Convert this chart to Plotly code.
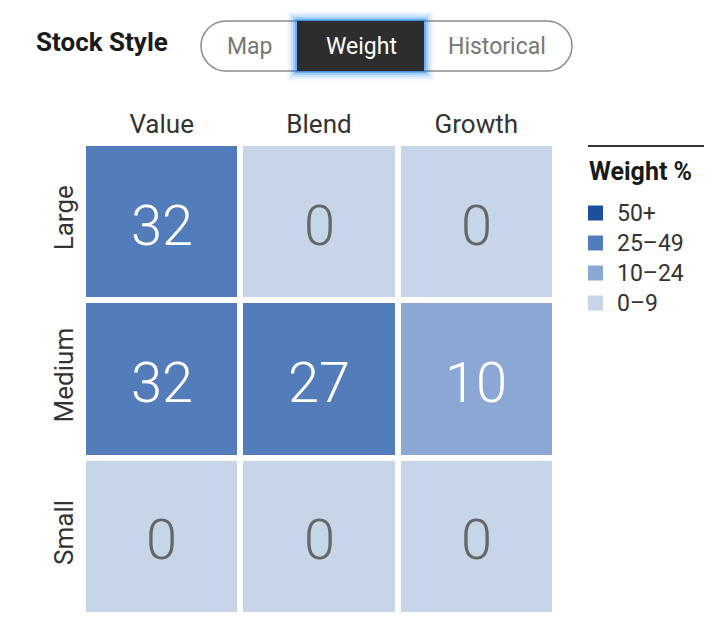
import plotly.graph_objects as go

# ---------------- data ----------------
styles = ["Value", "Blend", "Growth"]
sizes = ["Large", "Medium", "Small"]
weights = [
    [32, 0, 0],
    [32, 27, 10],
    [0, 0, 0],
]
legend_labels = ["50+", "25–49", "10–24", "0–9"]
legend_colors = ["#1d4f9f", "#537cbb", "#8ba7d3", "#c6d5e8"]
tabs = ["Map", "Weight", "Historical"]
selected_tab = "Weight"
title_text = "Stock Style"
legend_title = "Weight %"

# ---------------- layout constants ----------------
OFF = 8  # page body margin
W, H = 712, 628
PW = PH = 472
ML, MT = 83 - OFF, 143 - OFF
MR, MB = W - ML - PW, H - MT - PH
FONT = "Roboto, sans-serif"


def px(x):
    return (x - OFF - ML) / PW


def py(y):
    return (H - MB - (y - OFF)) / PH


c0, c1, c2, c3 = legend_colors[3], legend_colors[2], legend_colors[1], legend_colors[0]
colorscale = [
    [0.0, c0], [0.095, c0],
    [0.095, c1], [0.245, c1],
    [0.245, c2], [0.495, c2],
    [0.495, c3], [1.0, c3],
]

fig = go.Figure()
fig.add_trace(go.Heatmap(
    x=styles, y=sizes, z=weights,
    zmin=0, zmax=100, colorscale=colorscale, showscale=False,
    xgap=6, ygap=6, hoverinfo="skip",
))

shapes = []
annotations = []

# cell values
for i, s in enumerate(sizes):
    for j, st in enumerate(styles):
        v = weights[i][j]
        annotations.append(dict(
            x=st, y=s, xref="x", yref="y", text=str(v), showarrow=False,
            xanchor="center", yanchor="middle", yshift=-4,
            font=dict(family=FONT, size=56, weight=300,
                      color="#ffffff" if v >= 10 else "#666666"),
        ))

# title
annotations.append(dict(
    x=px(34), y=py(42), xref="paper", yref="paper", xanchor="left", yanchor="middle",
    text="<b>" + title_text + "</b>", showarrow=False,
    font=dict(family=FONT, size=26, color="#1a1a1a"),
))

# pill
x0, x1, y0, y1 = 201, 572, 21, 71
r = (y1 - y0) / 2
k = 0.5523 * r
path = (
    f"M {px(x0 + r)} {py(y0)} L {px(x1 - r)} {py(y0)} "
    f"C {px(x1 - r + k)} {py(y0)} {px(x1)} {py(y0 + r - k)} {px(x1)} {py(y0 + r)} "
    f"C {px(x1)} {py(y0 + r + k)} {px(x1 - r + k)} {py(y1)} {px(x1 - r)} {py(y1)} "
    f"L {px(x0 + r)} {py(y1)} "
    f"C {px(x0 + r - k)} {py(y1)} {px(x0)} {py(y0 + r + k)} {px(x0)} {py(y0 + r)} "
    f"C {px(x0)} {py(y0 + r - k)} {px(x0 + r - k)} {py(y0)} {px(x0 + r)} {py(y0)} Z"
)
shapes.append(dict(type="path", path=path, xref="paper", yref="paper",
                   line=dict(color="#8a8a8a", width=1.5), fillcolor="white", layer="above"))

# selected box with glow
bx0, bx1, by0, by1 = 297, 424, 21, 71
for g, op in [(10, 0.05), (8, 0.08), (6, 0.12), (4, 0.2), (2, 0.4)]:
    shapes.append(dict(type="rect", xref="paper", yref="paper",
                       x0=px(bx0 - g), x1=px(bx1 + g), y0=py(by1 + g), y1=py(by0 - g),
                       line=dict(width=0), fillcolor=f"rgba(20,130,255,{op})", layer="above"))
shapes.append(dict(type="rect", xref="paper", yref="paper",
                   x0=px(bx0), x1=px(bx1), y0=py(by1), y1=py(by0),
                   line=dict(width=0), fillcolor="#2d2d2d", layer="above"))

tab_centers = [250, 361, 497]
for name, cx in zip(tabs, tab_centers):
    annotations.append(dict(
        x=px(cx), y=py(46), xref="paper", yref="paper", xanchor="center", yanchor="middle",
        text=name, showarrow=False,
        font=dict(family=FONT, size=23, color="#ffffff" if name == selected_tab else "#777777"),
    ))

# legend
shapes.append(dict(type="line", xref="paper", yref="paper",
                   x0=px(588), x1=px(720), y0=py(146), y1=py(146),
                   line=dict(color="#333333", width=2)))
annotations.append(dict(
    x=px(587), y=py(172), xref="paper", yref="paper", xanchor="left", yanchor="middle",
    text="<b>" + legend_title + "</b>", showarrow=False,
    font=dict(family=FONT, size=25, color="#1a1a1a"),
))
for n, (lab, col) in enumerate(zip(legend_labels, legend_colors)):
    cy = 213 + 30 * n
    shapes.append(dict(type="rect", xref="paper", yref="paper",
                       x0=px(588), x1=px(603), y0=py(cy + 7.5), y1=py(cy - 7.5),
                       line=dict(width=0), fillcolor=col))
    annotations.append(dict(
        x=px(615), y=py(cy), xref="paper", yref="paper", xanchor="left", yanchor="middle",
        text=lab, showarrow=False,
        font=dict(family=FONT, size=23, color="#333333"),
    ))

fig.update_layout(
    width=W, height=H,
    margin=dict(l=ML, r=MR, t=MT, b=MB),
    paper_bgcolor="white", plot_bgcolor="white",
    shapes=shapes, annotations=annotations,
    showlegend=False,
    xaxis=dict(side="top", showgrid=False, zeroline=False, showline=False, ticks="",
               ticklabelstandoff=4,
               tickfont=dict(family=FONT, size=26, color="#333333"), fixedrange=True),
    yaxis=dict(autorange="reversed", showgrid=False, zeroline=False, showline=False, ticks="",
               ticklabelstandoff=4, tickangle=-90,
               tickfont=dict(family=FONT, size=26, color="#333333"), fixedrange=True),
)

fig.write_html("out.html")
